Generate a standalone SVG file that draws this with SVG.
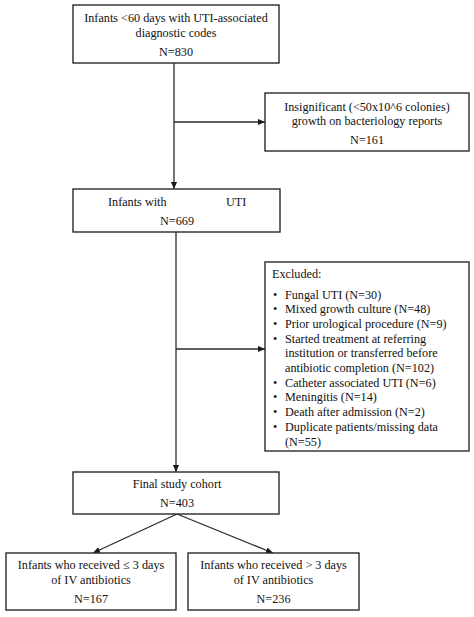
<svg xmlns="http://www.w3.org/2000/svg" width="474" height="617" viewBox="0 0 474 617">
<defs>
<marker id="ah" viewBox="0 0 8 8" refX="8" refY="4" markerWidth="7" markerHeight="7" markerUnits="userSpaceOnUse" orient="auto">
<path d="M0,0.5 L8,4 L0,7.5 Z" fill="#1a1a1a"/>
</marker>
<style>
.box{fill:#fff;stroke:#2a2a2a;stroke-width:1.4}
.t{font-family:"Liberation Serif","Times New Roman",serif;font-size:12.2px;fill:#111}
.c{text-anchor:middle}
.ln{fill:none;stroke:#2a2a2a;stroke-width:1.3}
</style>
</defs>
<rect width="474" height="617" fill="#fff"/>
<g id="connectors">
<line class="ln" x1="174" y1="63" x2="174" y2="189" marker-end="url(#ah)"/>
<line class="ln" x1="174" y1="122" x2="265" y2="122" marker-end="url(#ah)"/>
<line class="ln" x1="176" y1="232" x2="176" y2="472" marker-end="url(#ah)"/>
<line class="ln" x1="176" y1="349" x2="265" y2="349" marker-end="url(#ah)"/>
<line class="ln" x1="177" y1="514" x2="93" y2="553" marker-end="url(#ah)"/>
<line class="ln" x1="177" y1="514" x2="273" y2="553" marker-end="url(#ah)"/>
</g>
<g id="n1">
<rect class="box" x="73" y="5" width="206" height="58"/>
<text class="t c" x="176" y="21.5">Infants &lt;60 days with UTI-associated</text>
<text class="t c" x="176" y="37">diagnostic codes</text>
<text class="t c" x="176" y="56">N=830</text>
</g>
<g id="n2">
<rect class="box" x="265" y="93" width="204" height="58"/>
<text class="t c" x="367" y="111">Insignificant (&lt;50x10^6 colonies)</text>
<text class="t c" x="367" y="125">growth on bacteriology reports</text>
<text class="t c" x="367" y="144">N=161</text>
</g>
<g id="n3">
<rect class="box" x="73" y="189" width="207" height="43"/>
<text class="t" x="108" y="206">Infants with</text>
<text class="t" x="226" y="206">UTI</text>
<text class="t c" x="177" y="225">N=669</text>
</g>
<g id="n4">
<rect class="box" x="265" y="262" width="204" height="189"/>
<text class="t" x="272" y="278">Excluded:</text>
<g class="t">
<text x="273" y="298.5">•</text><text x="285" y="298.5">Fungal UTI (N=30)</text>
<text x="273" y="313.2">•</text><text x="285" y="313.2">Mixed growth culture (N=48)</text>
<text x="273" y="327.9">•</text><text x="285" y="327.9">Prior urological procedure (N=9)</text>
<text x="273" y="342.6">•</text><text x="285" y="342.6">Started treatment at referring</text>
<text x="285" y="357.3">institution or transferred before</text>
<text x="285" y="372">antibiotic completion (N=102)</text>
<text x="273" y="386.7">•</text><text x="285" y="386.7">Catheter associated UTI (N=6)</text>
<text x="273" y="401.4">•</text><text x="285" y="401.4">Meningitis (N=14)</text>
<text x="273" y="416.1">•</text><text x="285" y="416.1">Death after admission (N=2)</text>
<text x="273" y="430.8">•</text><text x="285" y="430.8">Duplicate patients/missing data</text>
<text x="285" y="445.5">(N=55)</text>
</g>
</g>
<g id="n5">
<rect class="box" x="73" y="472" width="206" height="42"/>
<text class="t c" x="177" y="488">Final study cohort</text>
<text class="t c" x="177" y="507">N=403</text>
</g>
<g id="n6">
<rect class="box" x="6" y="553" width="170" height="57"/>
<text class="t c" x="91" y="569">Infants who received ≤ 3 days</text>
<text class="t c" x="91" y="584">of IV antibiotics</text>
<text class="t c" x="91" y="603">N=167</text>
</g>
<g id="n7">
<rect class="box" x="188" y="553" width="171" height="57"/>
<text class="t c" x="273.5" y="569">Infants who received &gt; 3 days</text>
<text class="t c" x="273.5" y="584">of IV antibiotics</text>
<text class="t c" x="273.5" y="603">N=236</text>
</g>
</svg>
